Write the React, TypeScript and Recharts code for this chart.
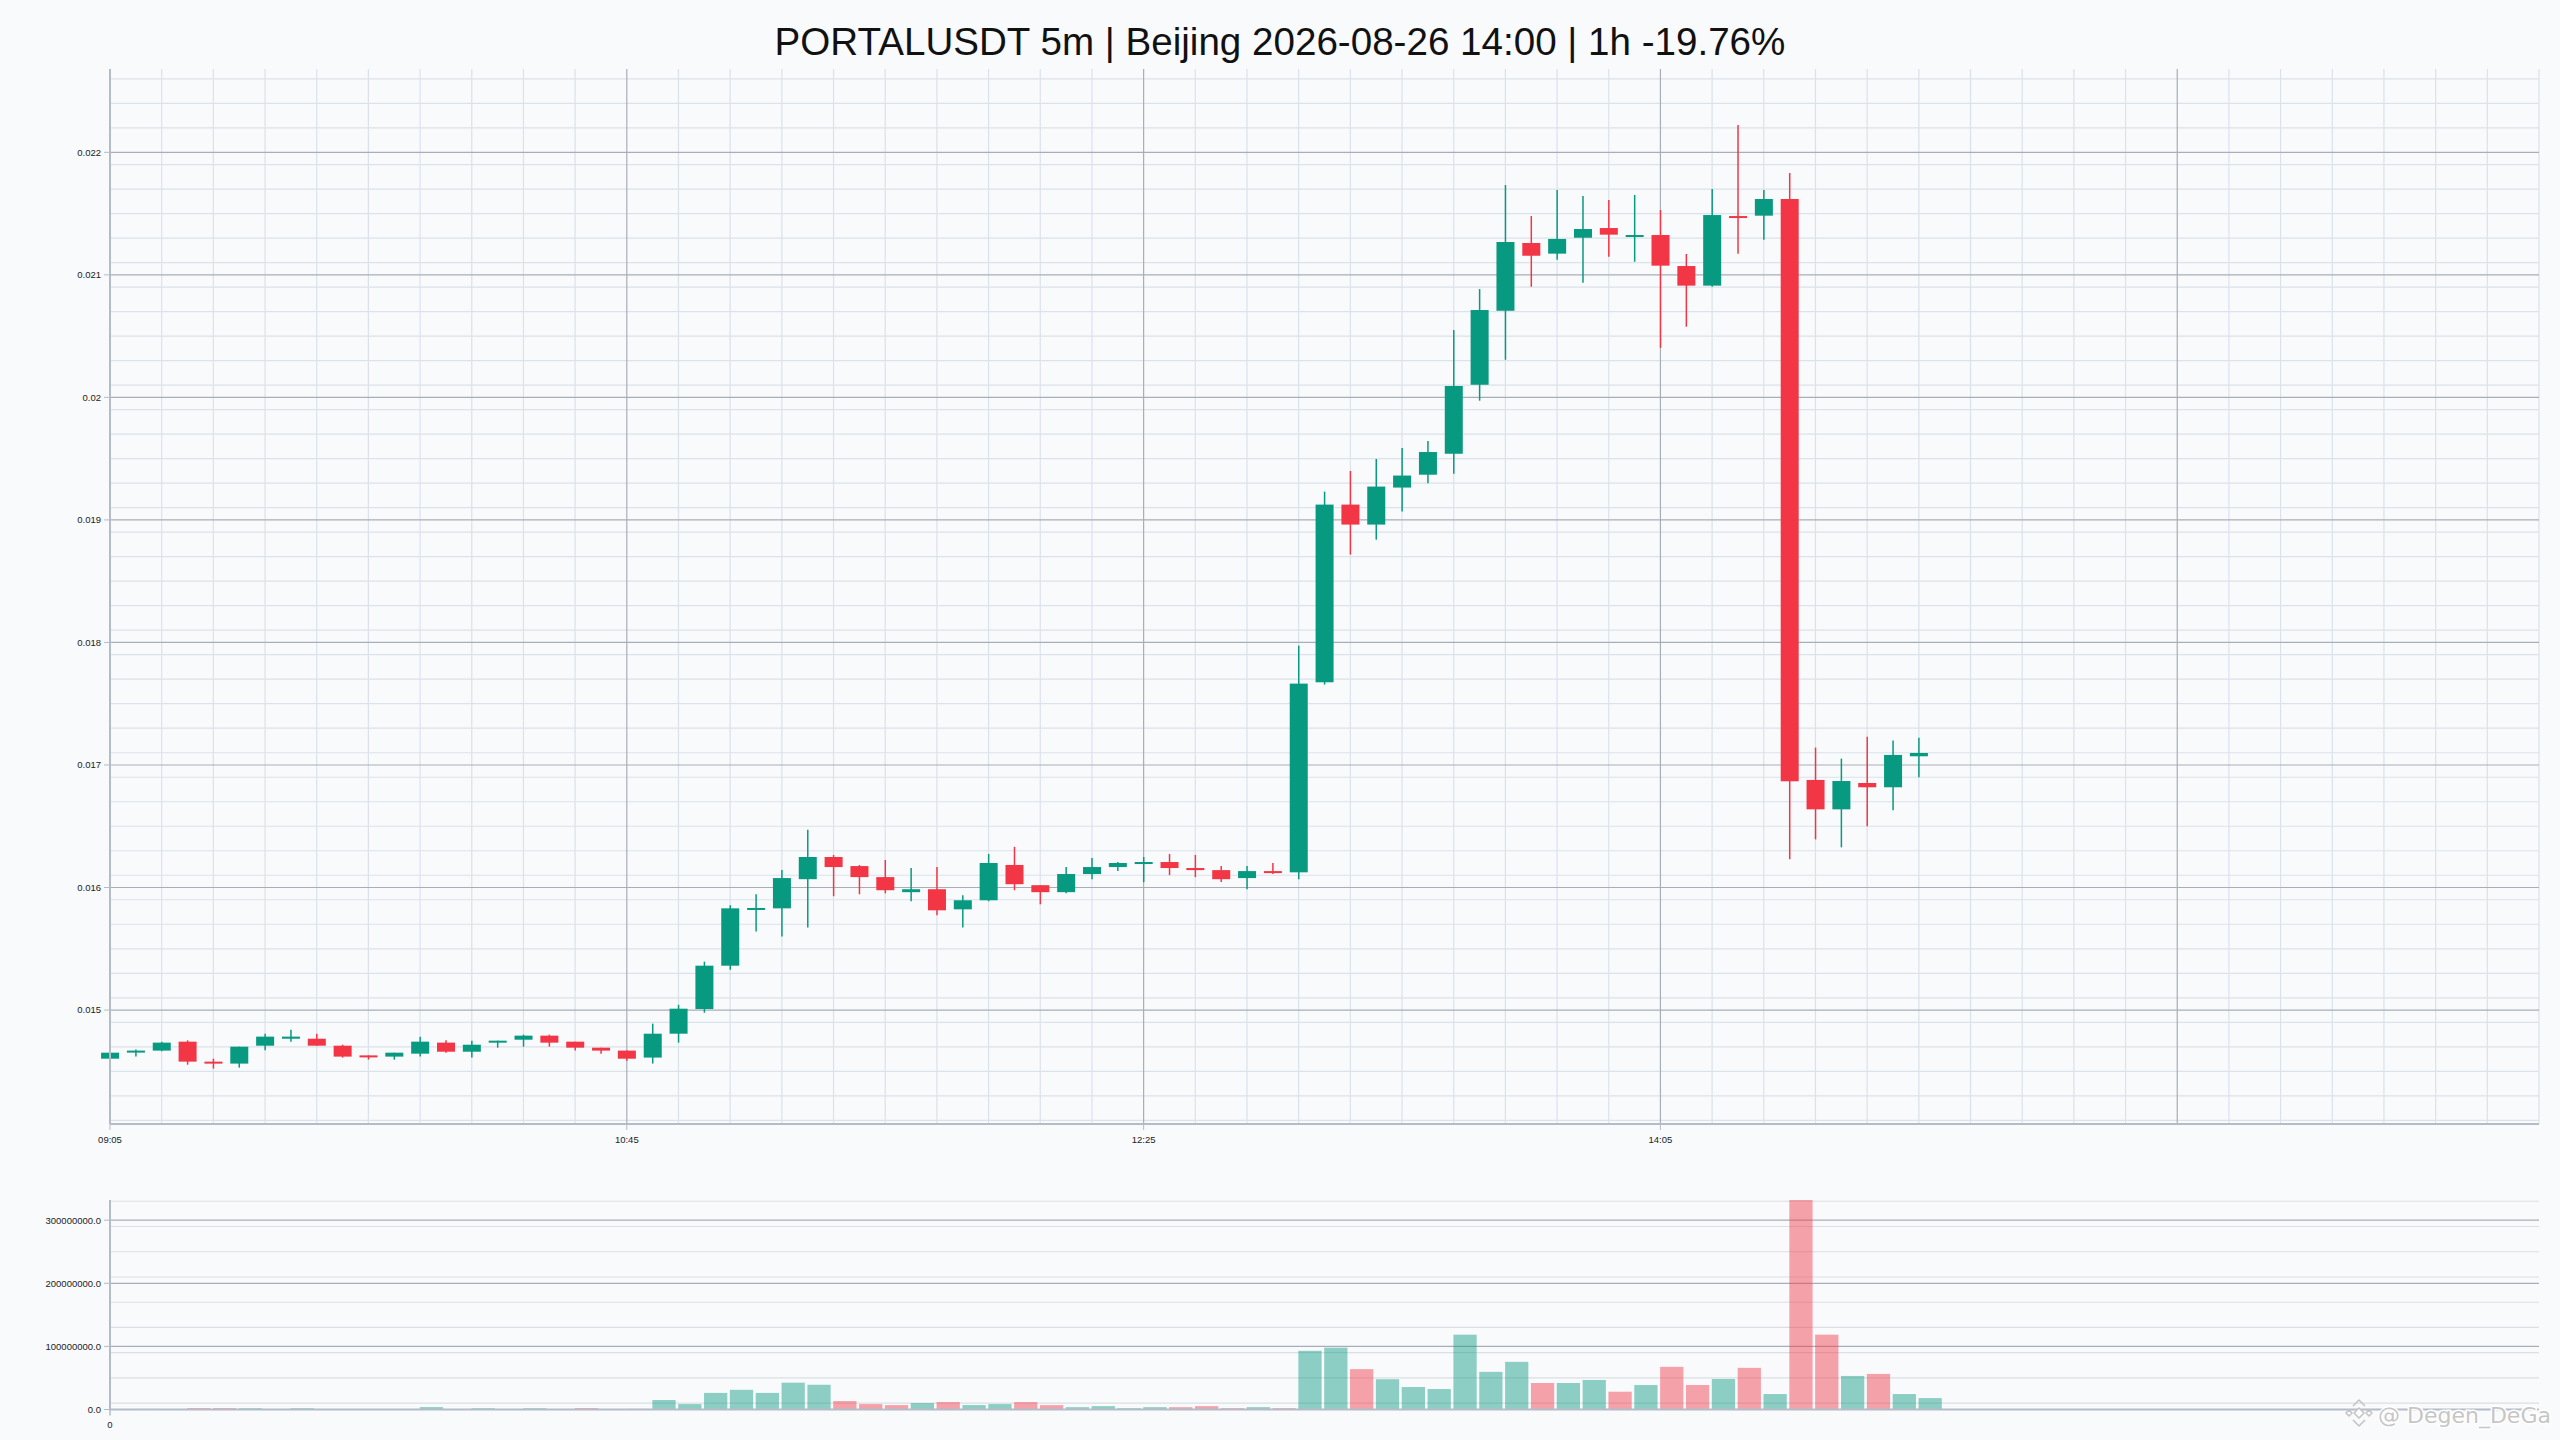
import React from "react";
import { ComposedChart, Bar, XAxis, YAxis, CartesianGrid } from "recharts";

// 5m candles from 09:05, one entry per bar
const opens = [
  0.014603, 0.014655, 0.014669, 0.014742, 0.014579, 0.014563, 0.014709, 0.014766, 0.014766, 0.014709,
  0.01463, 0.01462, 0.014644, 0.014734, 0.01466, 0.014734, 0.014758, 0.014791, 0.014742, 0.014693,
  0.014669, 0.014612, 0.014807, 0.015008, 0.015362, 0.015825, 0.01583, 0.016068, 0.016249, 0.016175,
  0.016085, 0.015962, 0.015986, 0.015822, 0.015896, 0.016184, 0.016019, 0.015962, 0.01611, 0.016167,
  0.016203, 0.016208, 0.016159, 0.016142, 0.016077, 0.016134, 0.016124, 0.017675, 0.019125, 0.018962,
  0.019264, 0.019369, 0.01954, 0.020103, 0.020707, 0.02126, 0.021173, 0.021303, 0.021382, 0.021312,
  0.021325, 0.021072, 0.020912, 0.02148, 0.021483, 0.021619, 0.016878, 0.016638, 0.016853, 0.016818,
  0.017071,
];
const highs = [
  0.01466, 0.014679, 0.014742, 0.014753, 0.014603, 0.014701, 0.014807, 0.01484, 0.014807, 0.014717,
  0.01463, 0.014652, 0.014783, 0.014753, 0.01475, 0.01475, 0.014799, 0.014799, 0.014742, 0.014693,
  0.014669, 0.014889, 0.015043, 0.015395, 0.015855, 0.015945, 0.016142, 0.016471, 0.016266, 0.016184,
  0.016225, 0.016159, 0.016167, 0.015937, 0.016274, 0.016332, 0.016019, 0.016167, 0.016241, 0.016208,
  0.016249, 0.016274, 0.016266, 0.016175, 0.016175, 0.0162, 0.017974, 0.019231, 0.019399, 0.019497,
  0.019586, 0.019644, 0.02055, 0.020884, 0.021733, 0.02148, 0.021693, 0.021644, 0.021611, 0.021652,
  0.021529, 0.02117, 0.021701, 0.022223, 0.021693, 0.021831, 0.017142, 0.017052, 0.017231, 0.017199,
  0.017223,
];
const lows = [
  0.014554, 0.01462, 0.014663, 0.014554, 0.014522, 0.01453, 0.014671, 0.014742, 0.014709, 0.014612,
  0.014596, 0.014595, 0.01462, 0.014652, 0.014612, 0.014693, 0.014701, 0.014701, 0.014669, 0.014644,
  0.014587, 0.014563, 0.014734, 0.014978, 0.015329, 0.015641, 0.0156, 0.015674, 0.015929, 0.015945,
  0.015953, 0.015888, 0.015773, 0.015674, 0.015888, 0.015978, 0.015863, 0.015953, 0.016068, 0.016134,
  0.016044, 0.016101, 0.016085, 0.016044, 0.015986, 0.01611, 0.016067, 0.017656, 0.018717, 0.018839,
  0.019068, 0.0193, 0.019377, 0.019973, 0.020307, 0.020903, 0.021124, 0.020936, 0.021148, 0.021107,
  0.020405, 0.020577, 0.020903, 0.021173, 0.021287, 0.01623, 0.016393, 0.016328, 0.016499, 0.01663,
  0.016899,
];
const closes = [
  0.014652, 0.014669, 0.014734, 0.014579, 0.014563, 0.014701, 0.014783, 0.014783, 0.014709, 0.01462,
  0.014622, 0.014652, 0.014742, 0.01466, 0.014717, 0.01475, 0.014791, 0.014734, 0.014693, 0.014669,
  0.014603, 0.014807, 0.015011, 0.015362, 0.01583, 0.015833, 0.016077, 0.016249, 0.016167, 0.016085,
  0.015978, 0.015986, 0.015814, 0.015896, 0.0162, 0.016027, 0.015962, 0.01611, 0.016167, 0.0162,
  0.016208, 0.016159, 0.016142, 0.016068, 0.016134, 0.016126, 0.017664, 0.019125, 0.018962, 0.019272,
  0.019362, 0.019554, 0.020093, 0.020713, 0.021268, 0.021156, 0.021293, 0.021374, 0.021328, 0.021325,
  0.021075, 0.020912, 0.021488, 0.021467, 0.021619, 0.016867, 0.016638, 0.016869, 0.016818, 0.017082,
  0.017098,
];
// volume in millions
const volumesM = [
  0.8, 0.9, 0.7, 2.2, 2.2, 2.0, 0.6, 2.0, 0.5, 0.8,
  0.4, 0.6, 3.8, 0.7, 2.0, 0.8, 2.0, 0.6, 2.2, 0.5,
  0.9, 15, 8.6, 26.3, 31.2, 26.3, 42.5, 39.2, 13.4, 8.6,
  7, 10.2, 11.8, 7, 8.6, 11.8, 6.9, 3.7, 5.3, 2.1,
  3.7, 3.7, 5.3, 2.1, 3.7, 2.1, 93, 98, 64, 48,
  35.6, 32.4, 118.6, 59.6, 75.5, 42, 42, 46.8, 28.2, 38.8,
  67.6, 38.8, 48.4, 66, 24.5, 332, 118.6, 53.2, 56.4, 24.5,
  18.1,
];

const timeTicks = [0, 20, 40, 60];
const timeLabels = ["09:05", "10:45", "12:25", "14:05"];
const priceTicks = [0.015, 0.016, 0.017, 0.018, 0.019, 0.02, 0.021, 0.022];
const volumeTicks = [0, 100000000, 200000000, 300000000];

const UP = "#089981";
const DOWN = "#f23645";
const SLOTS = 94;
const PLOT_LEFT = 110;
const PLOT_RIGHT = 2539;
const SLOT_PX = (PLOT_RIGHT - PLOT_LEFT) / SLOTS;

const candles = opens.map((o, i) => ({
  i,
  open: o,
  high: highs[i],
  low: lows[i],
  close: closes[i],
  vol: volumesM[i] * 1e6,
}));

// grid values
const minorPrice: number[] = [];
for (let k = 141; k <= 226; k++) if (k % 10 !== 0) minorPrice.push(k / 10000);
const minorTime: number[] = [];
for (let k = 2; k <= SLOTS; k += 2) if (k % 20 !== 0) minorTime.push(k);
const majorTime = [20, 40, 60, 80];
const minorVol: number[] = [];
for (let k = 1; k <= 33; k++) if (k % 10 !== 0) minorVol.push(k * 1e7);

const font = "'Liberation Sans', Arial, sans-serif";
const axisColor = "#b3bcc8";
const tickStyle = { fill: "#222", fontSize: 9.5, fontFamily: font };

function Candle(props: any) {
  const { x, y, width, height, payload } = props;
  if (x == null || payload == null) return null;
  const { open, close, high, low } = payload;
  const span = high - low;
  const toY = (v: number) => (span > 0 ? y + ((high - v) / span) * height : y);
  const color = close >= open ? UP : DOWN;
  const cx = x + width / 2;
  const top = toY(Math.max(open, close));
  const bottom = toY(Math.min(open, close));
  return (
    <g>
      <line x1={cx} x2={cx} y1={y} y2={y + height} stroke={color} strokeWidth={1.5} />
      <rect x={x} y={top} width={width} height={Math.max(bottom - top, 2)} fill={color} />
    </g>
  );
}

function VolumeBar(props: any) {
  const { x, y, width, height, payload } = props;
  if (x == null || payload == null) return null;
  const color = payload.close >= payload.open ? UP : DOWN;
  // bars start at the candle time and run one slot to the right
  return <rect x={x + width / 2} y={y} width={width} height={Math.max(height, 0)} fill={color} fillOpacity={0.45} />;
}

function VolumeTick(props: any) {
  const { x, y, payload } = props;
  if (!payload || payload.value !== 0) return null;
  return (
    <g>
      <line x1={x} x2={x} y1={y - 8} y2={y - 2} stroke={axisColor} strokeWidth={1.5} />
      <text x={x} y={y + 4} dy="0.71em" textAnchor="middle" {...tickStyle}>
        0
      </text>
    </g>
  );
}

export default function App() {
  return (
    <div
      style={{
        position: "absolute",
        left: 0,
        top: 0,
        width: 2560,
        height: 1440,
        overflow: "hidden",
        background: "#f8fafc",
      }}
    >
      <div style={{ position: "absolute", left: 0, top: 0 }}>
        <ComposedChart width={2560} height={1170} data={candles} margin={{ top: 69, right: 21, bottom: 16, left: 50 }}>
          <CartesianGrid horizontalValues={minorPrice} verticalValues={minorTime} stroke="#dbe2ea" strokeWidth={1.2} />
          <CartesianGrid horizontalValues={priceTicks} verticalValues={majorTime} stroke="#a9aeb6" strokeWidth={1.2} />
          <XAxis
            dataKey="i"
            type="number"
            domain={[0, SLOTS]}
            ticks={timeTicks}
            tickFormatter={(v: number) => timeLabels[timeTicks.indexOf(v)] ?? ""}
            height={30}
            tickSize={6}
            tickMargin={6}
            tick={tickStyle}
            axisLine={{ stroke: axisColor, strokeWidth: 2 }}
            tickLine={{ stroke: axisColor }}
          />
          <YAxis
            type="number"
            domain={[0.01407, 0.02268]}
            ticks={priceTicks}
            tickFormatter={(v: number) => String(v)}
            width={60}
            tickSize={6}
            tickMargin={3}
            tick={tickStyle}
            axisLine={{ stroke: axisColor, strokeWidth: 2 }}
            tickLine={{ stroke: axisColor }}
          />
          <Bar dataKey={(d: any) => [d.low, d.high]} shape={<Candle />} barSize={18} isAnimationActive={false} />
        </ComposedChart>
      </div>
      <div style={{ position: "absolute", left: 0, top: 1150 }}>
        <ComposedChart width={2560} height={290} data={candles} margin={{ top: 50, right: 21, bottom: 10.5, left: 40 }}>
          <CartesianGrid horizontalValues={minorVol} vertical={false} stroke="#dcdfe3" strokeWidth={1.2} />
          <CartesianGrid horizontalValues={volumeTicks.slice(1)} vertical={false} stroke="#a9aeb6" strokeWidth={1.2} />
          <XAxis
            dataKey="i"
            type="number"
            domain={[0, SLOTS]}
            ticks={[0, 20, 40, 60, 80]}
            tick={<VolumeTick />}
            tickLine={false}
            tickSize={6}
            tickMargin={2}
            height={20}
            axisLine={{ stroke: axisColor, strokeWidth: 2 }}
          />
          <YAxis
            type="number"
            domain={[0, "dataMax"]}
            ticks={volumeTicks}
            tickFormatter={(v: number) => v.toFixed(1)}
            width={70}
            tickSize={6}
            tickMargin={3}
            tick={tickStyle}
            axisLine={{ stroke: axisColor, strokeWidth: 2 }}
            tickLine={{ stroke: axisColor }}
          />
          <Bar dataKey="vol" shape={<VolumeBar />} barSize={SLOT_PX} isAnimationActive={false} />
        </ComposedChart>
      </div>
      <svg width={2560} height={1440} style={{ position: "absolute", left: 0, top: 0, pointerEvents: "none" }}>
        <text x={1280} y={55} textAnchor="middle" fontSize={38.6} fontFamily={font} fill="#111">
          PORTALUSDT 5m | Beijing 2026-08-26 14:00 | 1h -19.76%
        </text>
        <g stroke="#c4c4c4" strokeWidth={1.6} fill="#fff" strokeLinejoin="round">
          <polygon points="2359,1408 2364,1413 2359,1418 2354,1413" />
          <polygon points="2349,1410 2352,1413 2349,1416 2346,1413" />
          <polygon points="2369,1410 2372,1413 2369,1416 2366,1413" />
          <polyline points="2353,1406 2359,1400 2365,1406" fill="none" />
          <polyline points="2353,1420 2359,1426 2365,1420" fill="none" />
        </g>
        <text
          x={2378}
          y={1423}
          fontSize={22}
          fontFamily="'DejaVu Sans', sans-serif"
          fill="#c6c6c6"
          stroke="#ffffff"
          strokeWidth={3}
          paintOrder="stroke"
        >
          @ Degen_DeGa
        </text>
      </svg>
    </div>
  );
}
